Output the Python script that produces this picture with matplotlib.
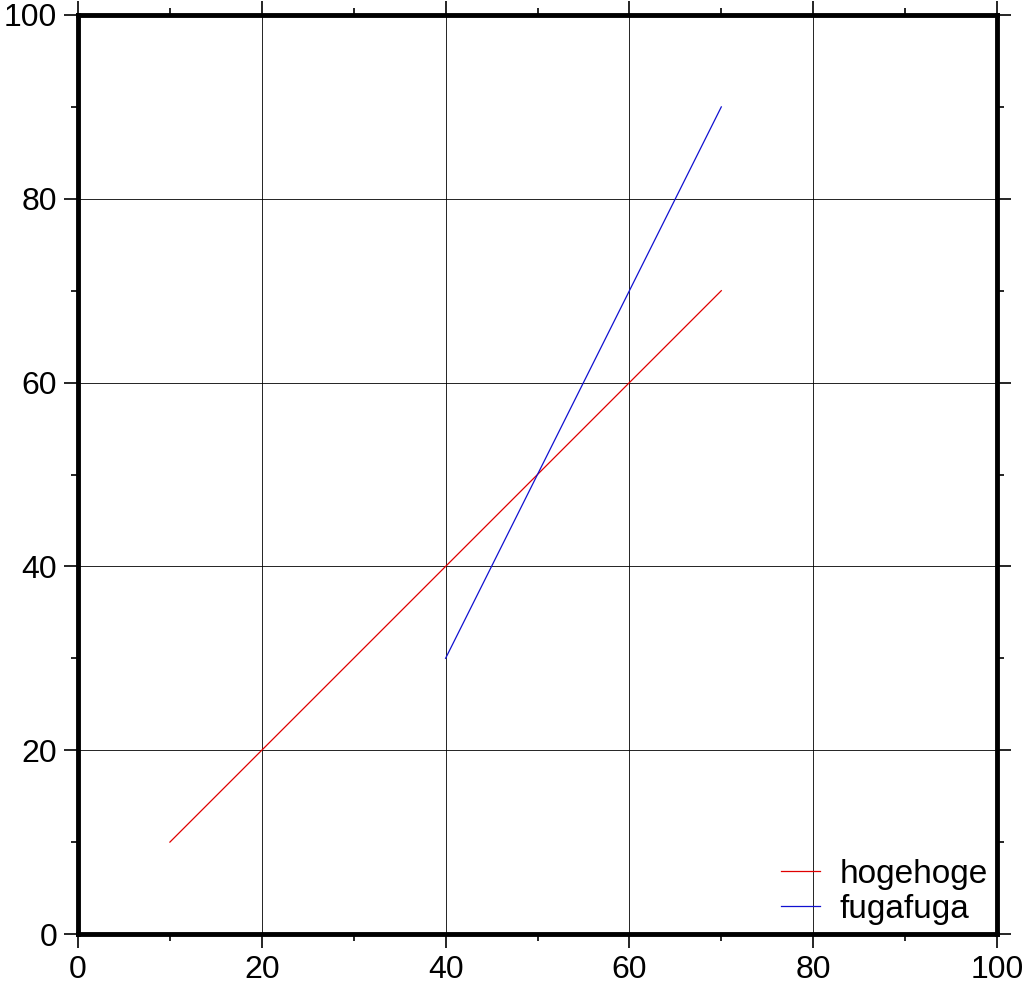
import matplotlib
matplotlib.use("Agg")
import matplotlib.pyplot as plt
from matplotlib.ticker import MultipleLocator

plt.rcParams['font.family'] = ['Liberation Sans', 'DejaVu Sans']

hoge_x = [10, 20, 30, 40, 50, 60, 70]
hoge_y = [10, 20, 30, 40, 50, 60, 70]
fuga_x = [40, 50, 60, 70]
fuga_y = [30, 50, 70, 90]

fig = plt.figure(figsize=(10.24, 9.86), dpi=100)
ax = fig.add_axes([78 / 1024, 1 - 934 / 986, (997 - 78) / 1024, (934 - 15) / 986])

ax.plot(hoge_x, hoge_y, color='#e00000', lw=0.9, label='hogehoge')
ax.plot(fuga_x, fuga_y, color='#1010d0', lw=0.9, label='fugafuga')

ax.set_xlim(0, 100)
ax.set_ylim(0, 100)
ax.xaxis.set_major_locator(MultipleLocator(20))
ax.yaxis.set_major_locator(MultipleLocator(20))
ax.xaxis.set_minor_locator(MultipleLocator(10))
ax.yaxis.set_minor_locator(MultipleLocator(10))
ax.grid(True, which='major', color='black', lw=0.6)
ax.set_axisbelow(True)

for s in ax.spines.values():
    s.set_linewidth(3.5)
ax.tick_params(which='both', direction='out', top=True, right=True, width=1.2, labelsize=23)
ax.tick_params(which='major', length=10, pad=5)
ax.tick_params(which='minor', length=5)

ax.legend(loc='lower right', frameon=False, fontsize=24, handlelength=1.15,
          handletextpad=0.6, labelspacing=0.12, borderpad=0.2, borderaxespad=0.07)

fig.savefig('out.png', dpi=100)
